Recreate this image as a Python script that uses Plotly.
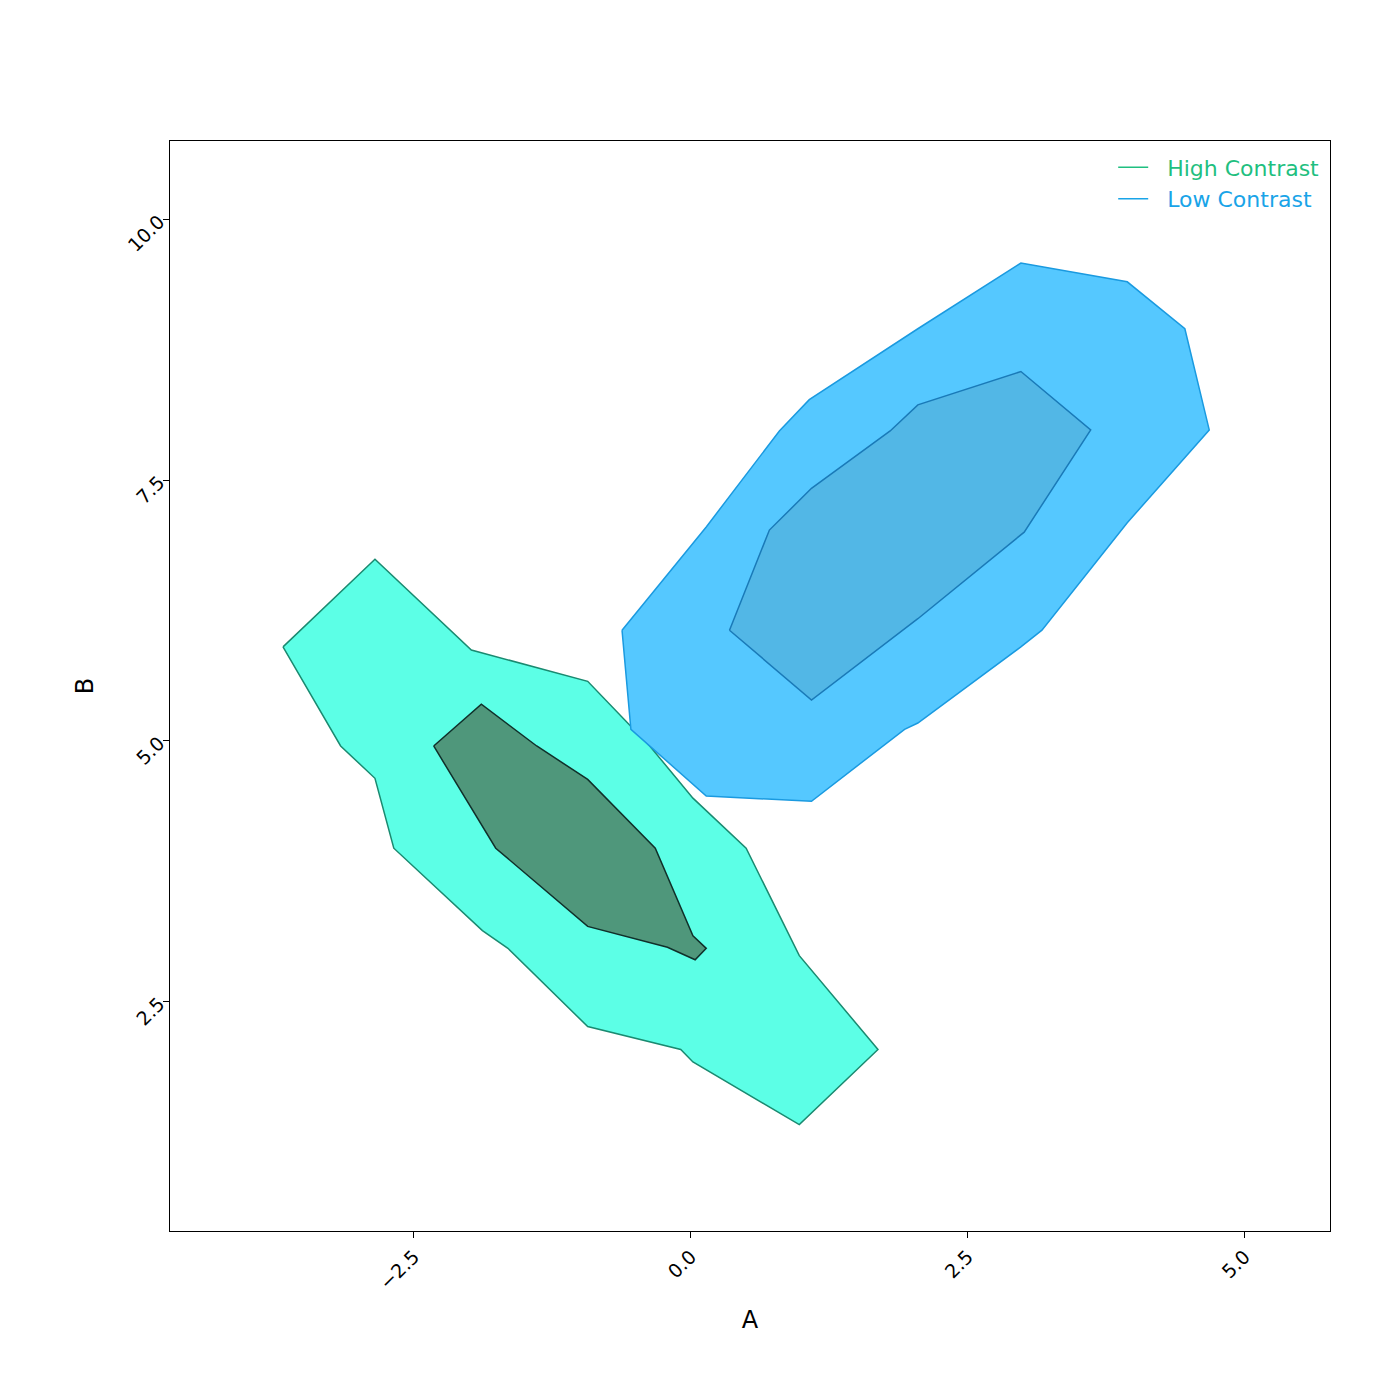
import plotly.graph_objects as go

# Contour polygons
hc_outer_x = [-3.68,-2.85,-1.98,-0.93,-0.37,0.02,0.50,0.98,1.69,0.98,0.02,-0.09,-0.93,-1.65,-1.88,-2.68,-2.85,-3.16,-3.68]
hc_outer_y = [5.90,6.74,5.87,5.57,4.95,4.45,3.97,2.94,2.04,1.32,1.92,2.04,2.26,3.01,3.18,3.97,4.64,4.95,5.90]
hc_inner_x = [-2.32,-1.89,-1.39,-0.93,-0.32,0.02,0.14,0.04,-0.21,-0.93,-1.76,-2.32]
hc_inner_y = [4.95,5.35,4.95,4.63,3.97,3.13,3.01,2.90,3.02,3.22,3.97,4.95]
lc_outer_x = [-0.62,0.14,0.80,1.07,2.05,2.98,3.94,4.46,4.68,3.94,3.17,2.98,2.05,1.93,1.09,0.14,-0.54,-0.62]
lc_outer_y = [6.06,7.05,7.97,8.27,8.95,9.58,9.40,8.95,7.98,7.09,6.06,5.90,5.17,5.11,4.42,4.47,5.11,6.06]
lc_inner_x = [0.35,0.71,1.09,1.80,2.05,2.98,3.61,3.01,2.05,1.09,0.35]
lc_inner_y = [6.06,7.02,7.42,7.97,8.22,8.54,7.98,7.00,6.17,5.39,6.06]

fig = go.Figure()
def poly(x, y, fill, line):
    fig.add_trace(go.Scatter(x=x, y=y, mode="lines", fill="toself", fillcolor=fill,
                             line=dict(color=line, width=1.5), showlegend=False, hoverinfo="skip"))
poly(hc_outer_x, hc_outer_y, "#5cffe6", "#1a8a70")
poly(hc_inner_x, hc_inner_y, "#4f977b", "#10302a")
poly(lc_outer_x, lc_outer_y, "#55c8ff", "#1a9ae0")
poly(lc_inner_x, lc_inner_y, "#52b7e6", "#1a7ab8")

fig.add_trace(go.Scatter(x=[None], y=[None], mode="lines", line=dict(color="#1fbf80", width=1.5),
                         name='<span style="color:#1fbf80">  High Contrast</span>'))
fig.add_trace(go.Scatter(x=[None], y=[None], mode="lines", line=dict(color="#19a4e8", width=1.5),
                         name='<span style="color:#19a4e8">  Low Contrast</span>'))

ax = dict(showgrid=False, zeroline=False, showline=True, mirror=True, linecolor="black",
          linewidth=1.2, ticks="outside", ticklen=6, tickcolor="black", tickangle=-45,
          tickfont=dict(size=19, color="black"), title_font=dict(size=24, color="black"))
fig.update_layout(
    width=1400, height=1400, plot_bgcolor="white", paper_bgcolor="white",
    font=dict(family="DejaVu Sans"),
    margin=dict(l=162, r=78, t=133, b=177),
    xaxis=dict(ax, range=[-4.70, 5.77], tickvals=[-2.5, 0, 2.5, 5],
               ticktext=["−2.5", "0.0", "2.5", "5.0"], title=dict(text="A", standoff=18)),
    yaxis=dict(ax, range=[0.30, 10.75], tickvals=[2.5, 5, 7.5, 10],
               ticktext=["2.5", "5.0", "7.5", "10.0"], title=dict(text="B", standoff=22)),
    legend=dict(x=0.995, y=0.995, xanchor="right", yanchor="top", bgcolor="rgba(0,0,0,0)",
                font=dict(size=22), tracegroupgap=10),
)
fig.write_html("out.html")
